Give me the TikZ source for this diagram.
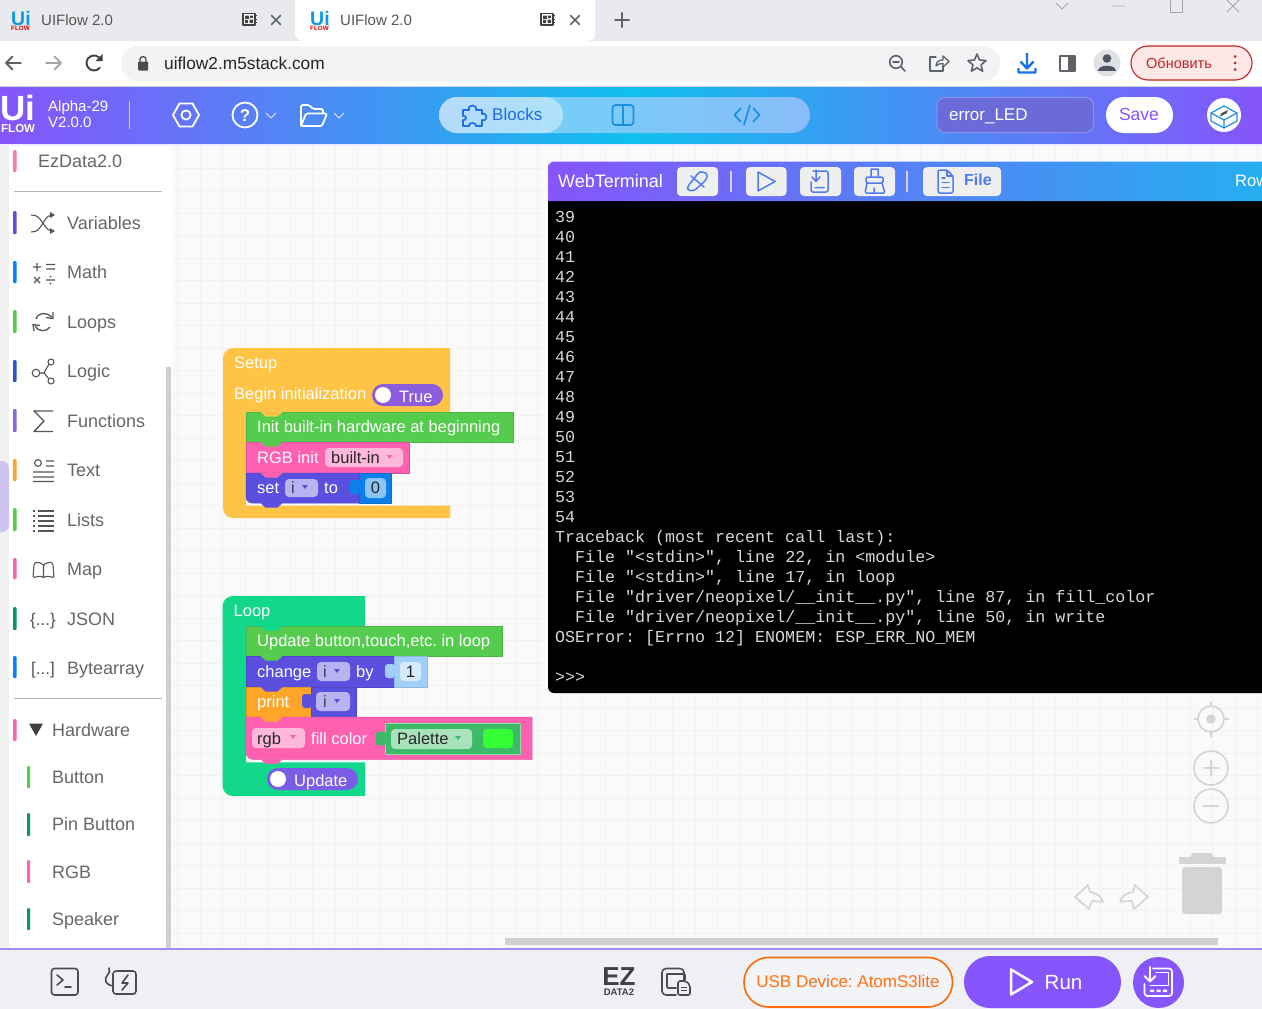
\documentclass[tikz,border=0pt]{standalone}
\usepackage{fontspec}
\setmainfont{Liberation Sans}
\newfontfamily\termfont{Liberation Mono}
\usetikzlibrary{shapes.geometric}
\frenchspacing
\definecolor{hpurple}{HTML}{8655FB}
\definecolor{hcyan}{HTML}{10C0EE}
\definecolor{sidetext}{HTML}{666666}
\definecolor{icongray}{HTML}{555555}
\definecolor{chrome}{HTML}{E8EAED}
\definecolor{chromeicon}{HTML}{5F6368}
\definecolor{barviolet}{HTML}{5B4FE0}
\definecolor{barblue}{HTML}{0B80FF}
\definecolor{bargreen}{HTML}{55CC4E}
\definecolor{barnavy}{HTML}{3355CC}
\definecolor{barfunc}{HTML}{8A63E6}
\definecolor{barorange}{HTML}{FFA628}
\definecolor{barpink}{HTML}{FF60B0}
\definecolor{barteal}{HTML}{0A9A60}
\definecolor{barrose}{HTML}{F77F9A}
\definecolor{setupyellow}{HTML}{FFC445}
\definecolor{loopgreen}{HTML}{11D88A}
\definecolor{numblue}{HTML}{0A80E8}
\definecolor{numlight}{HTML}{A0D0FA}
\definecolor{fieldpink}{HTML}{FFB8DA}
\definecolor{fieldviolet}{HTML}{B9B3F2}
\definecolor{termblue}{HTML}{4F7CF0}
\definecolor{ctrlgray}{HTML}{D4D4D4}
\definecolor{tabblue}{HTML}{1A6FE8}
\definecolor{tabcyan}{HTML}{1A8FE0}
\definecolor{updred}{HTML}{C5221F}
\definecolor{termtext}{HTML}{D8D8D8}
\definecolor{sidepill}{HTML}{CFC3F0}
\definecolor{truepill}{HTML}{8B5CDC}
\definecolor{zerofield}{HTML}{8CC4F5}
\definecolor{onefield}{HTML}{D8EBFC}
\definecolor{palblock}{HTML}{3CBA68}
\definecolor{paledge}{HTML}{8FDDAA}
\definecolor{palfield}{HTML}{A9E3BC}
\definecolor{swatch}{HTML}{33FF33}
\definecolor{updpill}{HTML}{7A5CE8}
\definecolor{termright}{HTML}{25AEF0}
\definecolor{termbtn}{HTML}{EFEFEF}
\definecolor{bottombg}{HTML}{EEF0F6}
\definecolor{bottomline}{HTML}{9A90F0}
\definecolor{usbline}{HTML}{FF6A00}
\definecolor{usbfill}{HTML}{F3F4F8}
\definecolor{usbtext}{HTML}{FF7010}
\definecolor{pillleft}{HTML}{6FD6F8}
\definecolor{pillright}{HTML}{88BCF8}
\definecolor{blocksleft}{HTML}{B5DAFA}
\definecolor{blocksright}{HTML}{AEE2F8}
\definecolor{namefill}{HTML}{6A6AD8}
\definecolor{nameedge}{HTML}{8F90E8}
\definecolor{logoblue}{HTML}{0A9AE8}
\definecolor{tabtext}{HTML}{555555}
\definecolor{addrbar}{HTML}{F1F3F4}
\definecolor{dlblue}{HTML}{1A73E8}
\definecolor{avatarbg}{HTML}{DFE1E5}
\definecolor{avatarfg}{HTML}{4E5560}
\definecolor{updfill}{HTML}{FCE8E6}
\newcounter{tnode}
\def\tadj{0.36}
\newcommand{\T}[5]{\stepcounter{tnode}\node[name=txt\arabic{tnode},anchor=base west,inner sep=0pt,text=#4,font=\fontsize{#3}{#3}\selectfont] at ({#1},{#2+\tadj*#3}) {#5};}
\newcommand{\C}[5]{\stepcounter{tnode}\node[name=txt\arabic{tnode},anchor=base,inner sep=0pt,text=#4,font=\fontsize{#3}{#3}\selectfont] at ({#1},{#2+\tadj*#3}) {#5};}
\newcommand{\M}[2]{\stepcounter{tnode}\node[name=txt\arabic{tnode},anchor=base west,inner sep=0pt,text=termtext,font=\termfont\fontsize{16.67}{16.67}\selectfont] at (555,{#1+5}) {#2};}
\newcommand{\Bar}[3]{\fill[#3,rounded corners=1pt] (13,#1) rectangle (16.5,#2);}
\newcommand{\Sbar}[3]{\fill[#3,rounded corners=1pt] (27,#1) rectangle (30,#2);}
\newcommand{\Bk}[5]{\fill[#5,draw=#5!88!black,line width=.5pt] (#1,#2) rectangle (#3,#4);}
\newcommand{\Tb}[3]{\fill[#3] ({#1-11},#2) -- ({#1-6},{#2+4.5}) -- ({#1+6},{#2+4.5}) -- ({#1+11},#2) -- cycle;}
\newcommand{\Nt}[3]{\fill[#3,rounded corners=3pt] ({#1-9},{#2-7}) rectangle ({#1+1},{#2+7});}
\newcommand{\Fd}[5]{\fill[#5,rounded corners=4pt] (#1,#2) rectangle (#3,#4);}
\newcommand{\Tri}[3]{\fill[#3] ({#1-3},{#2-2}) -- ({#1+3},{#2-2}) -- (#1,{#2+2}) -- cycle;}
\begin{document}
\begin{tikzpicture}[x=1pt,y=-1pt,line join=round,
  ctrl/.style={draw=ctrlgray,line width=1.6pt},
  side/.style={draw=icongray,line width=1.1pt},
  wline/.style={draw=white,line width=1.8pt,line cap=round},
  tline/.style={draw=termblue,line width=1.5pt,line cap=round},
  bline/.style={draw=black!70,line width=1.6pt,line cap=round},
  cicon/.style={draw=chromeicon,line width=1.6pt,line cap=round}]
\useasboundingbox (0,0) rectangle (1262,1009);
\begin{scope}
\clip (0,0) rectangle (1262,1009);
% canvas
\fill[white!98!black] (0,143) rectangle (1262,948);
\foreach \k in {0,...,48} \draw[black!5,line width=.9pt] ({177.5+22.5*\k},143) -- ({177.5+22.5*\k},948);
\foreach \k in {0,...,35} \draw[black!5,line width=.9pt] (172,{145.7+22.5*\k}) -- (1262,{145.7+22.5*\k});
% sidebar
\fill[black!6] (0,143) rectangle (9,948);
\fill[white] (9,143) rectangle (172,948);
\fill[black!19] (166,367) rectangle (171,948);
\fill[black!19] (505,938) rectangle (1218,945);
\fill[sidepill,rounded corners=7pt] (-10,461) rectangle (9,532);
\fill[hpurple!12] (0,143) rectangle (1262,146);
\Bar{150}{172}{barrose}\Bar{211}{234}{barviolet}\Bar{261}{283}{barblue}\Bar{310}{333}{bargreen}
\Bar{360}{382}{barnavy}\Bar{409}{432}{barfunc}\Bar{459}{481}{barorange}\Bar{508}{531}{bargreen}
\Bar{558}{579}{barpink}\Bar{607}{630}{barteal}\Bar{656}{678}{barblue}\Bar{719}{741}{barpink}
\Sbar{766}{788}{bargreen}\Sbar{813}{836}{barteal}\Sbar{860}{883}{barpink}\Sbar{908}{930}{barteal}
\draw[black!30,line width=.9pt] (14,191.5) -- (162,191.5);
\draw[black!30,line width=.9pt] (14,698.5) -- (162,698.5);
\T{38}{161}{18}{sidetext}{EzData2.0}
\T{67}{223}{18}{sidetext}{Variables}
\T{67}{272}{18}{sidetext}{Math}
\T{67}{322}{18}{sidetext}{Loops}
\T{67}{371}{18}{sidetext}{Logic}
\T{67}{421}{18}{sidetext}{Functions}
\T{67}{470}{18}{sidetext}{Text}
\T{67}{520}{18}{sidetext}{Lists}
\T{67}{569}{18}{sidetext}{Map}
\T{67}{619}{18}{sidetext}{JSON}
\T{67}{668}{18}{sidetext}{Bytearray}
\T{52}{730}{18}{sidetext}{Hardware}
\T{52}{777}{18}{sidetext}{Button}
\T{52}{824}{18}{sidetext}{Pin Button}
\T{52}{872}{18}{sidetext}{RGB}
\T{52}{919}{18}{sidetext}{Speaker}
% sidebar icons
\draw[side] (31,215) .. controls (38,215) and (39,218) .. (43,223) .. controls (47,229) and (48,231) .. (54,231);
\draw[side] (31,232) .. controls (38,232) and (39,229) .. (43,223) .. controls (47,217) and (48,215) .. (54,215);
\fill[icongray] (55,215) -- (50,212) -- (50,218) -- cycle (55,231) -- (50,228) -- (50,234) -- cycle;
\draw[side,line width=1.3pt] (33,267) -- (41,267) (37,263) -- (37,271) (46,264.5) -- (55,264.5) (46,269) -- (55,269)
  (34,277) -- (40,283) (40,277) -- (34,283) (46,280) -- (55,280);
\fill[icongray] (50.5,276.5) circle (1pt) (50.5,283.5) circle (1pt);
\draw[side,line width=1.3pt] (36,319) .. controls (38,312) and (47,312) .. (52,317) (50,327) .. controls (47,332) and (38,332) .. (35,326);
\draw[side,line width=1.3pt] (46,317.5) -- (53,318.5) -- (53,312) (40,325.5) -- (33,324.5) -- (34,331);
\draw[side] (36,373) circle (3.8pt) (51,362) circle (3pt) (51,381) circle (3pt) (40,373) -- (44,373) -- (49,364) (44,373) -- (49,379);
\draw[side,line width=1.4pt] (53,411) -- (34,411) -- (44,421) -- (34,431.5) -- (53,431.5);
\draw[side] (38,463) circle (3.4pt) (46,461) -- (54,461) (46,466) -- (54,466) (33,472) -- (54,472) (33,477) -- (54,477) (33,481.5) -- (54,481.5);
\foreach \y in {511,516,521,526,531} {\draw[side] (33,\y) -- (35,\y) (38,\y) -- (54,\y);}
\draw[side,rounded corners=1.5pt] (43.5,565) .. controls (40,562) and (36,562) .. (34,564) -- (33,578) .. controls (37,576) and (41,576) .. (43.5,578) .. controls (46,576) and (50,576) .. (54,578) -- (53,564) .. controls (51,562) and (47,562) .. (43.5,565) -- (43.5,578);
\C{43}{619}{17}{icongray}{\{...\}}
\C{43}{668}{17}{icongray}{[...]}
\fill[black!75] (29,723.5) -- (43,723.5) -- (36,736) -- cycle;
\def\tadj{0.41}
% Setup block
\fill[setupyellow] (450,348) -- (330,348) [rounded corners=10pt] -- (223,348) -- (223,518) -- (330,518) [sharp corners] -- (450,518) -- (450,505.7) -- (246,505.7) -- (246,412) -- (450,412) -- cycle;
\T{234}{362}{16.5}{white}{Setup}
\T{234}{393}{16.5}{white}{Begin initialization}
\fill[truepill,rounded corners=11pt] (372,384) rectangle (443,406);
\fill[white] (383,395) circle (8pt);
\T{399}{396}{16.5}{white}{True}
\Bk{246}{412}{513}{442}{bargreen}
\Tb{271.5}{412}{setupyellow}
\Bk{246}{442}{409}{473}{barpink}
\Tb{271.5}{442}{bargreen}
\fill[barviolet,draw=barviolet!88!black,line width=.5pt] (359,473) -- (246,473) -- (246,497) [rounded corners=6pt] -- (246,503) -- (300,503) [sharp corners] -- (359,503) -- cycle;
\Tb{271.5}{473}{barpink}
\Tb{271.5}{503}{barviolet}
\Bk{359}{473}{391.5}{503}{numblue}
\Nt{359}{487}{numblue}
\T{257}{426}{16.5}{white}{Init built-in hardware at beginning}
\T{257}{457}{16.5}{white}{RGB init}
\Fd{325}{448}{403}{467}{fieldpink}
\T{331}{457}{16.5}{black!85}{built-in}
\Tri{389.5}{457}{barpink}
\T{257}{487}{16.5}{white}{set}
\Fd{285}{479}{318}{497}{fieldviolet}
\T{291}{487}{16.5}{black!75}{i}
\Tri{305}{487}{barviolet}
\T{324}{487}{16.5}{white}{to}
\Fd{365}{478}{386}{498}{zerofield}
\C{375.5}{487}{16.5}{black!85}{0}
% Loop block
\fill[loopgreen] (365,596) -- (300,596) [rounded corners=10pt] -- (222.7,596) -- (222.7,796) -- (300,796) [sharp corners] -- (365,796) -- (365,762.3) -- (246,762.3) -- (246,626) -- (365,626) -- cycle;
\T{233.5}{610}{16.5}{white}{Loop}
\Bk{246}{626}{502}{656}{bargreen}
\Tb{271.5}{626}{loopgreen}
\Bk{246}{656}{394}{687}{barviolet}
\Tb{271.5}{656}{bargreen}
\Bk{394}{656}{427}{687}{numlight}
\Nt{394}{671}{numlight}
\Bk{246}{687}{311}{717}{barorange}
\Tb{271.5}{687}{barviolet}
\Bk{311}{687}{356}{717}{barviolet}
\Nt{311}{701}{barviolet}
\fill[barpink,draw=barpink!88!black,line width=.5pt] (532,717) -- (246,717) -- (246,750) [rounded corners=7pt] -- (246,759.3) -- (300,759.3) [sharp corners] -- (532,759.3) -- cycle;
\Tb{271.5}{717}{barorange}
\Tb{271.5}{759.3}{barpink}
\fill[palblock,draw=paledge,line width=.8pt] (385,723) rectangle (520,754);
\Nt{385}{738.5}{palblock}
\T{257}{640}{16.5}{white}{Update button,touch,etc. in loop}
\T{257}{671}{16.5}{white}{change}
\Fd{317}{662}{350}{681}{fieldviolet}
\T{323}{671}{16.5}{black!75}{i}
\Tri{337}{671}{barviolet}
\T{356}{671}{16.5}{white}{by}
\Fd{400}{662}{421}{681}{onefield}
\C{410.5}{671}{16.5}{black!85}{1}
\T{257}{701}{16.5}{white}{print}
\Fd{316}{692}{350}{711}{fieldviolet}
\T{323}{701}{16.5}{black!75}{i}
\Tri{337}{701}{barviolet}
\Fd{252}{728}{305}{748}{fieldpink}
\T{257}{738}{16.5}{black!85}{rgb}
\Tri{293}{737}{barpink}
\T{311}{738}{16.5}{white}{fill color}
\Fd{391}{729}{472}{749}{palfield}
\T{397}{738}{16.5}{black!85}{Palette}
\Tri{458}{738}{palblock}
\Fd{483}{729}{513}{748}{swatch}
\fill[updpill,rounded corners=11pt] (267,768) rectangle (358,790);
\fill[white] (278,779) circle (8pt);
\T{294}{780}{16.5}{white}{Update}
\def\tadj{0.36}
% Web terminal
\fill[black] (1270,201) -- (548,201) -- (548,680) [rounded corners=6pt] -- (548,693) -- (600,693) [sharp corners] -- (1270,693) -- cycle;
\shade[left color=hpurple,right color=termright] (1262,201) -- (548,201) -- (548,180) [rounded corners=6pt] -- (548,161.5) -- (600,161.5) [sharp corners] -- (1262,161.5) -- cycle;
\T{558}{181}{18}{white}{WebTerminal}
\T{1235}{181}{16.5}{white}{Row}
\foreach \a/\b in {677/718,746/786.5,800/841,854/895,923/1001} {\fill[termbtn,rounded corners=4pt] (\a,167) rectangle (\b,196);}
\draw[white!70!hpurple,line width=1.3pt] (731,171) -- (731,192) (907,171) -- (907,192);
\draw[tline,rounded corners=3pt] (688,186) -- (700,171) -- (708,174) -- (706,180) -- (694,191) -- (687,190) -- cycle;
\draw[tline] (691,176) -- (704,187);
\draw[tline] (758,172) -- (758,191) -- (775,181.5) -- cycle;
\draw[tline,rounded corners=2pt] (813,171) -- (828,171) -- (828,192) -- (811,192) -- (811,182);
\draw[tline] (816,170) -- (816,181) (812,177) -- (816,181.5) -- (820,177) (815,187.5) -- (824,187.5);
\draw[tline,rounded corners=1.5pt] (871,169) -- (871,177) (878,169) -- (878,177) (871,169) -- (878,169) (866,177) -- (883,177) -- (883,183) -- (866,183) -- cycle (867,183) -- (865,193) -- (885,193) -- (882,183) (874,188) -- (874,193);
\draw[tline,rounded corners=2pt] (938,170) -- (947,170) -- (953,176) -- (953,193) -- (938,193) -- cycle;
\draw[tline] (947,170) -- (947,176) -- (953,176) (942,178) -- (945,178) (942,182.5) -- (949,182.5) (942,187.5) -- (949,187.5);
\T{964}{180}{16}{termblue}{\textbf{File}}
\foreach \n [count=\i from 0] in {39,...,54} {\M{217+20*\i}{\n}}
\M{537}{Traceback (most recent call last):}
\M{557}{\ \ File "<stdin>", line 22, in <module>}
\M{577}{\ \ File "<stdin>", line 17, in loop}
\M{597}{\ \ File "driver/neopixel/\_\_init\_\_.py", line 87, in fill\_color}
\M{617}{\ \ File "driver/neopixel/\_\_init\_\_.py", line 50, in write}
\M{637}{OSError: [Errno 12] ENOMEM: ESP\_ERR\_NO\_MEM}
\M{677}{>{}>{}>}
% canvas controls
\draw[ctrl] (1211,719) circle (13pt) (1211,702) -- (1211,706) (1211,732) -- (1211,737) (1194,719) -- (1198,719) (1224,719) -- (1229,719);
\fill[ctrlgray] (1211,719) circle (4.7pt);
\draw[ctrl] (1211,768) circle (17pt) (1203,768) -- (1219,768) (1211,760) -- (1211,776);
\draw[ctrl] (1211,806) circle (17pt) (1203,806) -- (1219,806);
\fill[ctrlgray] (1178.5,857) rectangle (1225.5,863.5);
\fill[ctrlgray,rounded corners=3pt] (1191,853) rectangle (1213,860);
\fill[ctrlgray,rounded corners=3pt] (1182,867) rectangle (1222,914);
\draw[ctrl] (1075,897) -- (1088,885) -- (1090,892) .. controls (1097,893) and (1102,897) .. (1103,902) .. controls (1099,901) and (1095,901) .. (1092,901) -- (1089,909) -- cycle;
\draw[ctrl] (1148,897) -- (1135,885) -- (1133,892) .. controls (1126,893) and (1121,897) .. (1120,902) .. controls (1124,901) and (1128,901) .. (1132,901) -- (1134,909) -- cycle;
% bottom bar
\fill[bottombg] (0,948) rectangle (1262,1009);
\fill[bottomline] (0,948) rectangle (1262,950);
\draw[bline,rounded corners=3pt] (51.5,968.5) rectangle (78,995);
\draw[bline] (57,975) -- (63,980) -- (57,985) (65,987) -- (71,987);
\draw[bline,rounded corners=3pt] (113,971) rectangle (136,994);
\draw[bline] (128,975) -- (122,983) -- (128,983) -- (122,990);
\draw[bline] (109,968) .. controls (112,974) and (103,976) .. (106,982) .. controls (107,985) and (110,985) .. (113,986);
\C{619}{976}{26}{black!75}{\textbf{EZ}}
\C{619}{992}{9.5}{black!75}{\textbf{DATA2}}
\draw[bline,rounded corners=4pt] (684,983) -- (684,968.5) -- (662,968.5) -- (662,995) -- (676,995);
\draw[bline,rounded corners=1pt] (667,974) -- (685,974) -- (685,980) (667,974) -- (667,988) -- (676,988);
\draw[bline,fill=bottombg,rounded corners=2pt] (678,981) -- (686,981) -- (690,985) -- (690,995) -- (678,995) -- cycle;
\draw[black!70,line width=1pt] (681,987) -- (687,987) (681,990) -- (687,990);
\draw[usbline,line width=1.6pt,rounded corners=24.5pt,fill=usbfill] (744,957.5) rectangle (952.5,1007);
\C{848}{981}{17}{usbtext}{USB Device: AtomS3lite}
\fill[hpurple,rounded corners=26pt] (964,956) rectangle (1121,1008);
\draw[wline,line width=2.5pt] (1011,969.5) -- (1011,994.5) -- (1032,982) -- cycle;
\C{1063.5}{982}{20.5}{white}{Run}
\fill[hpurple] (1158.5,982.5) circle (25.5pt);
\draw[wline,rounded corners=3pt] (1153,968.5) -- (1172,968.5) -- (1172,996) -- (1144.5,996) -- (1144.5,984);
\draw[wline,line width=1.5pt] (1156,972.5) -- (1168.5,972.5) -- (1168.5,985.5) -- (1150,985.5);
\draw[wline] (1150,967) -- (1150,981) (1144.5,976) -- (1150,981.5) -- (1155.5,976);
\fill[white] (1150,989.5) rectangle (1154,992) (1156.5,989.5) rectangle (1160.5,992) (1163,989.5) rectangle (1167,992);
% header
\shade[left color=hpurple,right color=hcyan] (0,87) rectangle (631,143);
\shade[left color=hcyan,right color=hpurple] (631,87) rectangle (1262,143);
\T{0}{108}{35}{white}{\textbf{Ui}}
\T{1}{128.5}{11.5}{white}{\textbf{FLOW}}
\T{48}{106}{15}{white}{Alpha-29}
\T{48}{122}{15}{white}{V2.0.0}
\draw[white!65!hpurple,line width=1pt] (129,101) -- (129,129);
\draw[wline] (173,115) -- (179.5,103.5) -- (192.5,103.5) -- (199,115) -- (192.5,126.5) -- (179.5,126.5) -- cycle (186,115) circle (4.6pt);
\draw[wline] (245,115) circle (12.5pt);
\C{245}{115}{17}{white}{\textbf{?}}
\draw[white!85!hpurple,line width=1pt] (266,113) -- (271,118) -- (276,113) (334,113) -- (339,118) -- (344,113);
\draw[wline,rounded corners=1.5pt] (301,126) -- (301,105) -- (309,105) -- (313,109) -- (323,109) -- (323,113.5);
\draw[wline,rounded corners=1.5pt] (301,126) -- (306,113.5) -- (327,113.5) -- (322,126) -- cycle;
\shade[left color=pillleft,right color=pillright,rounded corners=18pt] (439,97) rectangle (810,133);
\shade[left color=blocksleft,right color=blocksright,rounded corners=18pt] (439,97) rectangle (563,133);
\draw[tabblue,line width=1.7pt] (463,110) -- (469,110) .. controls (467,104) and (478,104) .. (476,110) -- (482,110) -- (482,114) .. controls (488,112) and (488,122) .. (482,120) -- (482,126) -- (476,126) .. controls (477,122) and (468,122) .. (469,126) -- (463,126) -- (463,120) .. controls (467,121) and (467,115) .. (463,116) -- cycle;
\T{492}{114}{17}{tabblue}{Blocks}
\draw[tabcyan,line width=1.7pt,rounded corners=3pt] (612.5,105) rectangle (633.5,125);
\draw[tabcyan,line width=1.7pt] (623,105) -- (623,125);
\draw[tabcyan,line width=1.7pt] (741,108) -- (734.5,115) -- (741,122) (753,108) -- (759.5,115) -- (753,122) (750,105) -- (744,125);
\fill[namefill,draw=nameedge,line width=1pt,rounded corners=8pt] (937,97.5) rectangle (1093.5,132.5);
\T{949}{114}{17}{white}{error\_LED}
\fill[white,rounded corners=18pt] (1106,97) rectangle (1173,133);
\C{1139}{114}{17.5}{hpurple}{Save}
\fill[white] (1224,115) ellipse (17pt and 17pt);
\draw[tabcyan,line width=1.2pt] (1211,113) -- (1224,106) -- (1237,113) -- (1224,120) -- cycle (1211,113) -- (1211,121) -- (1224,128) -- (1237,121) -- (1237,113) (1224,120) -- (1224,128);
\draw[black!70,line width=1pt] (1221,114) -- (1228,110.5) (1220,116) -- (1227,112.5);
% browser chrome
\fill[chrome] (0,0) rectangle (1262,41);
\fill[white,rounded corners=8pt] (295,-10) rectangle (595,41);
\fill[white] (0,41) rectangle (1262,86.5);
\fill[black!18] (0,86) rectangle (1262,87);
\T{11}{18}{19.5}{logoblue}{\textbf{Ui}}
\T{310}{18}{19.5}{logoblue}{\textbf{Ui}}
\T{11}{28.3}{6.3}{red!85!black}{\textbf{FLOW}}
\T{310}{28.3}{6.3}{red!85!black}{\textbf{FLOW}}
\T{41}{20}{15}{tabtext}{UIFlow 2.0}
\T{340}{20}{15}{tabtext}{UIFlow 2.0}
\foreach \x in {243,541} {
  \draw[black!75,line width=1.4pt,fill=white] (\x,13.5) rectangle ({\x+12},25);
  \fill[black!75] ({\x+2},15.5) rectangle ({\x+6},19) ({\x+7},15.5) rectangle ({\x+10},18) ({\x+2},20) rectangle ({\x+5},23) ({\x+6.5},19.5) rectangle ({\x+10},23);
  \draw[black!75,line width=1pt] ({\x+12},15.5) -- ({\x+14},15.5) ({\x+12},19) -- ({\x+14},19) ({\x+12},22.5) -- ({\x+14},22.5);
}
\draw[cicon,line width=1.5pt] (271.5,15.5) -- (280.5,24.5) (280.5,15.5) -- (271.5,24.5) (570.5,15.5) -- (579.5,24.5) (579.5,15.5) -- (570.5,24.5);
\draw[cicon,line width=2pt] (615,20) -- (629,20) (622,13) -- (622,27);
\draw[black!35,line width=.8pt] (1056,3) -- (1062,9) -- (1068,3) (1112,6) -- (1125,6);
\draw[black!35,line width=.8pt] (1170,0) -- (1170,12) -- (1182,12) -- (1182,0);
\draw[black!35,line width=.8pt] (1227,0) -- (1239,12) (1239,0) -- (1227,12);
% address bar
\fill[addrbar,rounded corners=17pt] (121,46) rectangle (1000,81);
\draw[cicon,line width=1.9pt] (21,63) -- (6,63) (12.5,56.5) -- (6,63) -- (12.5,69.5);
\draw[black!35,line width=1.9pt,line cap=round] (46,63) -- (61,63) (54.5,56.5) -- (61,63) -- (54.5,69.5);
\draw[black!75,line width=1.9pt,line cap=round] (100.5,59.25) arc[start angle=30,end angle=320,radius=7.5pt];
\fill[black!75] (102.5,54) -- (102.5,61) -- (95.5,61) -- cycle;
\fill[black!70,rounded corners=1pt] (138,61.5) rectangle (148,70.5);
\draw[black!70,line width=1.3pt] (140,62) -- (140,59.5) arc[start angle=180,end angle=0,radius=3pt] -- (146,62);
\T{164}{63.5}{17.3}{black!85}{uiflow2.m5stack.com}
\draw[cicon] (896,62) circle (6.3pt) (893,62) -- (899,62) (900.7,66.5) -- (905,71);
\draw[cicon,line width=1.3pt] (936,57) -- (930,57) -- (930,71) -- (943,71) -- (943,66);
\draw[cicon,line width=1.3pt] (936,66) .. controls (936,62) and (939,60) .. (943,60) -- (943,56) -- (949,61.5) -- (943,67) -- (943,63.5) .. controls (940,63.5) and (938,64) .. (936,66) -- cycle;
\node[name=starIcon,star,star points=5,star point ratio=2.2,draw=chromeicon,line width=1.6pt,inner sep=0pt,minimum size=19pt] at (977,63.5) {};
\draw[dlblue,line width=2.4pt] (1027,53) -- (1027,68) (1020.5,61.5) -- (1027,68.5) -- (1033.5,61.5) (1018.5,68) -- (1018.5,72.5) -- (1035.5,72.5) -- (1035.5,68);
\draw[chromeicon,line width=2.4pt] (1060,56) rectangle (1075,71);
\fill[chromeicon] (1067.5,56) rectangle (1075,71);
\fill[avatarbg] (1107,63) circle (13.5pt);
\fill[avatarfg] (1107,58.5) circle (4.3pt);
\fill[avatarfg] (1098,71) .. controls (1098,64) and (1116,64) .. (1116,71) -- cycle;
\fill[updfill,draw=updred,line width=1.1pt,rounded corners=17pt] (1131,46) rectangle (1252,80);
\T{1146}{63}{14.5}{updred}{Обновить}
\fill[updred] (1235,56.5) circle (1.5pt) (1235,63) circle (1.5pt) (1235,69.5) circle (1.5pt);
\end{scope}
\end{tikzpicture}
\end{document}
